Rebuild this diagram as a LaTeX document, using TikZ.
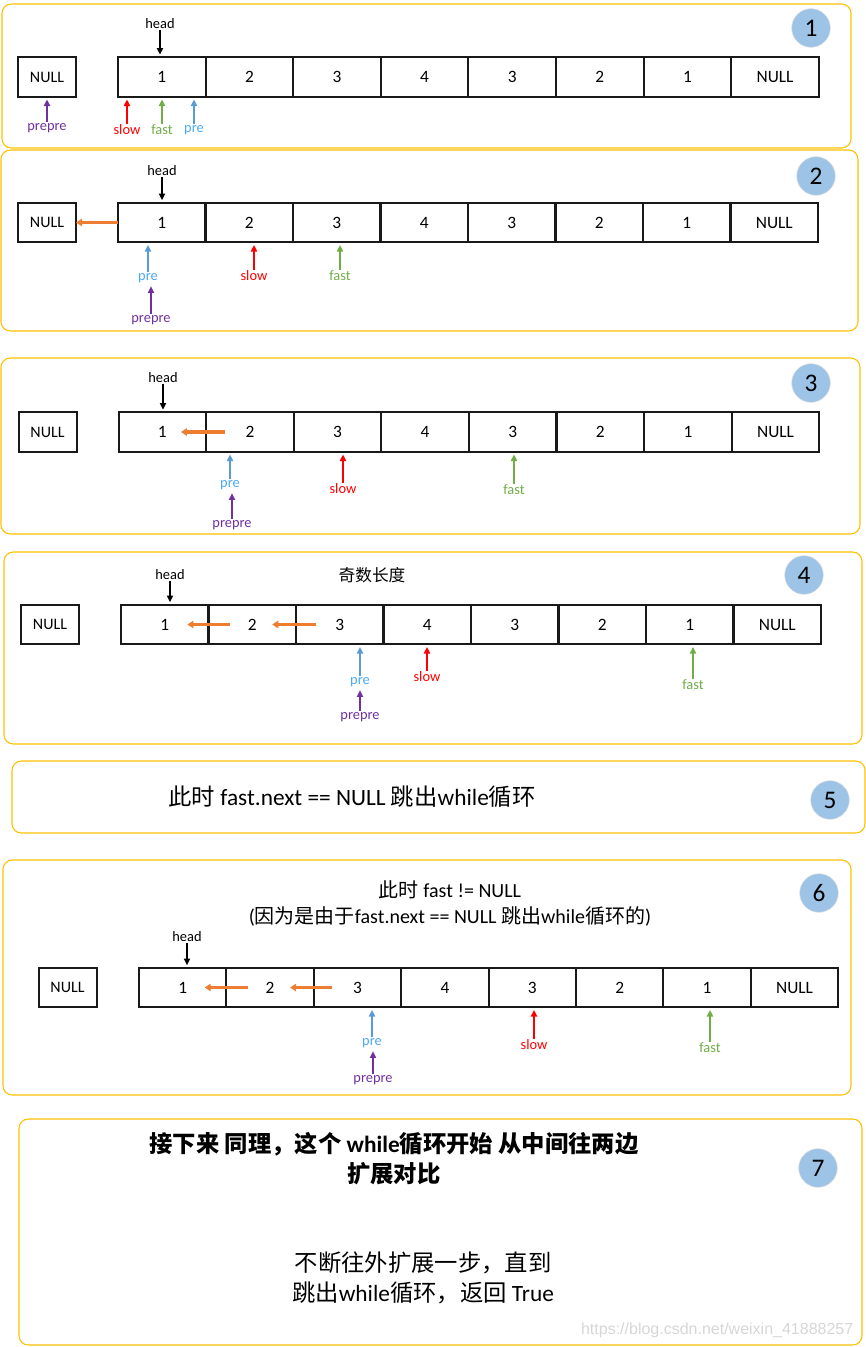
\documentclass[tikz,border=0pt]{standalone}
\usepackage{fontspec}
\setmainfont{Carlito}
\newfontfamily\cjk{Noto Sans CJK SC}
\newfontfamily\wmfont{Liberation Sans}
\newcommand\zh[1]{{\cjk #1}}
\usetikzlibrary{arrows.meta,positioning,calc}
\definecolor{boxyellow}{HTML}{FFC000}
\definecolor{badgeblue}{HTML}{9DC3E6}
\definecolor{revorange}{HTML}{ED7D31}
\definecolor{slowred}{HTML}{FF0000}
\definecolor{fastgreen}{HTML}{70AD47}
\definecolor{preblue}{HTML}{5B9BD5}
\definecolor{pretext}{HTML}{4AA8F5}
\definecolor{prepurple}{HTML}{7030A0}
\definecolor{wmgray}{HTML}{D6D6D6}
\tikzset{
  panel/.style={draw=boxyellow,line width=0.8pt,rounded corners=7pt},
  cell/.style={rectangle,draw=black!90,line width=1.5pt,outer sep=0pt,minimum width=65.6pt,minimum height=29.5pt,font=\fontsize{13pt}{15pt}\selectfont},
  nullbox/.style={cell,minimum width=43.5pt,font=\fontsize{12pt}{14pt}\selectfont},
  badge/.style={circle,fill=badgeblue,draw=black!12,minimum size=29pt,inner sep=0pt,font=\fontsize{19pt}{21pt}\selectfont},
  lbl/.style={inner sep=0.5pt,font=\fontsize{10.8pt}{12pt}\selectfont},
  ptr/.style={-{Triangle[length=5pt,width=4.5pt]},line width=1.9pt,shorten >=2pt},
  rev/.style={-{Triangle[length=4.5pt,width=5.5pt]},line width=2.3pt,draw=revorange},
  note/.style={align=center,font=\fontsize{17.5pt}{22pt}\selectfont},
  bignote/.style={align=center,font=\fontsize{17.5pt}{22.5pt}\selectfont}
}
\begin{document}
\begin{tikzpicture}[x=0.75pt,y=-0.75pt]
  \useasboundingbox (0,0) rectangle (866,1347);
  % panels
  \draw[panel] (2,4) rectangle (851,148);
  \draw[panel] (1,150) rectangle (858,331);
  \draw[panel] (1,358) rectangle (860,534);
  \draw[panel] (4,552) rectangle (862,744);
  \draw[panel] (12,761) rectangle (865,833);
  \draw[panel] (3,860) rectangle (851,1095);
  \draw[panel] (19,1119) rectangle (862,1345);
  \node[badge] (k1) at (811,28) {1};
  \node[badge] (k2) at (816,176) {2};
  \node[badge] (k3) at (811,383) {3};
  \node[badge] (k4) at (804,575) {4};
  \node[badge] (k5) at (830,800) {5};
  \node[badge] (k6) at (819,893) {6};
  \node[badge] (k7) at (818,1168) {7};

  % step 1
  \node[nullbox] (n1) at (47,77) {NULL};
  \foreach \v [count=\i] in {1,2,3,4,3,2,1,NULL}
    \node[cell] (a\i) at ({118+87.6*(\i-0.5)},77) {\v};
  \node[lbl] (hd1) at (160,24) {head};
  \draw[ptr] (hd1) -- (hd1 |- a1.north);
  \node[lbl,text=slowred] (sl1) at (127,130) {slow};
  \node[lbl,text=fastgreen] (fa1) at (162,130) {fast};
  \node[lbl,text=pretext] (pr1) at (194,130) {pre};
  \node[lbl,text=prepurple] (pp1) at (47,128) {prepre};
  \draw[ptr,slowred] (sl1) -- (sl1 |- a1.south);
  \draw[ptr,fastgreen] (fa1) -- (fa1 |- a1.south);
  \draw[ptr,preblue] (pr1) -- (pr1 |- a1.south);
  \draw[ptr,prepurple] (pp1) -- (pp1 |- n1.south);

  % step 2
  \node[nullbox] (n2) at (47,222.5) {NULL};
  \foreach \v [count=\i] in {1,2,3,4,3,2,1,NULL}
    \node[cell] (b\i) at ({118+87.5*(\i-0.5)},222.5) {\v};
  \draw[rev] (b1.west) -- (n2.east);
  \node[lbl] (hd2) at (162,171) {head};
  \draw[ptr] (hd2) -- (hd2 |- b1.north);
  \node[lbl,text=pretext] (pr2) at (148,278) {pre};
  \node[lbl,text=prepurple] (pp2) at (151,320) {prepre};
  \node[lbl,text=slowred] (sl2) at (254,276) {slow};
  \node[lbl,text=fastgreen] (fa2) at (340,276) {fast};
  \draw[ptr,preblue] (pr2) -- (pr2 |- b1.south);
  \draw[ptr,prepurple] (pp2) -- (pp2 |- pr2.south);
  \draw[ptr,slowred] (sl2) -- (sl2 |- b2.south);
  \draw[ptr,fastgreen] (fa2) -- (fa2 |- b3.south);

  % step 3
  \node[nullbox] (n3) at (47.5,432) {NULL};
  \foreach \v [count=\i] in {1,2,3,4,3,2,1,NULL}
    \node[cell] (c\i) at ({118.5+87.6*(\i-0.5)},432) {\v};
  \draw[rev] ([xshift=-19pt]c2.center) -- ([xshift=14pt]c1.center);
  \node[lbl] (hd3) at (163,378) {head};
  \draw[ptr] (hd3) -- (hd3 |- c1.north);
  \node[lbl,text=pretext] (pr3) at (230,485) {pre};
  \node[lbl,text=prepurple] (pp3) at (232,525) {prepre};
  \node[lbl,text=slowred] (sl3) at (343,489) {slow};
  \node[lbl,text=fastgreen] (fa3) at (514,490) {fast};
  \draw[ptr,preblue] (pr3) -- (pr3 |- c2.south);
  \draw[ptr,prepurple] (pp3) -- (pp3 |- pr3.south);
  \draw[ptr,slowred] (sl3) -- (sl3 |- c3.south);
  \draw[ptr,fastgreen] (fa3) -- (fa3 |- c5.south);

  % step 4
  \node[nullbox] (n4) at (50,624.5) {NULL};
  \foreach \v [count=\i] in {1,2,3,4,3,2,1,NULL}
    \node[cell] (d\i) at ({121+87.5*(\i-0.5)},624.5) {\v};
  \draw[rev] ([xshift=-16.5pt]d2.center) -- ([xshift=17pt]d1.center);
  \draw[rev] ([xshift=-18pt]d3.center) -- ([xshift=15pt]d2.center);
  \node[lbl] (hd4) at (170,575) {head};
  \draw[ptr] (hd4) -- (hd4 |- d1.north);
  \node[note,font=\cjk\fontsize{12.5pt}{15pt}\selectfont] (t4) at (372,575) {奇数长度};
  \node[lbl,text=pretext] (pr4) at (360,682) {pre};
  \node[lbl,text=prepurple] (pp4) at (360,717) {prepre};
  \node[lbl,text=slowred] (sl4) at (427,677) {slow};
  \node[lbl,text=fastgreen] (fa4) at (693,685) {fast};
  \draw[ptr,preblue] (pr4) -- (pr4 |- d3.south);
  \draw[ptr,prepurple] (pp4) -- (pp4 |- pr4.south);
  \draw[ptr,slowred] (sl4) -- (sl4 |- d4.south);
  \draw[ptr,fastgreen] (fa4) -- (fa4 |- d7.south);

  % step 5
  \node[note] (t5) at (352,797) {\zh{此时} fast.next == NULL \zh{跳出}while\zh{循环}};

  % step 6
  \node[note,font=\fontsize{15pt}{19.5pt}\selectfont] (t6) at (450,903)
    {\zh{此时} fast != NULL\\(\zh{因为是由于}fast.next == NULL \zh{跳出}while\zh{循环的})};
  \node[nullbox] (n6) at (67.5,987.5) {NULL};
  \foreach \v [count=\i] in {1,2,3,4,3,2,1,NULL}
    \node[cell] (f\i) at ({139+87.4*(\i-0.5)},987.5) {\v};
  \draw[rev] ([xshift=-16.5pt]f2.center) -- ([xshift=16.5pt]f1.center);
  \draw[rev] ([xshift=-19pt]f3.center) -- ([xshift=15pt]f2.center);
  \node[lbl] (hd6) at (187,937) {head};
  \draw[ptr] (hd6) -- (hd6 |- f1.north);
  \node[lbl,text=pretext] (pr6) at (372,1043) {pre};
  \node[lbl,text=prepurple] (pp6) at (373,1080) {prepre};
  \node[lbl,text=slowred] (sl6) at (534,1045) {slow};
  \node[lbl,text=fastgreen] (fa6) at (710,1048) {fast};
  \draw[ptr,preblue] (pr6) -- (pr6 |- f3.south);
  \draw[ptr,prepurple] (pp6) -- (pp6 |- pr6.south);
  \draw[ptr,slowred] (sl6) -- (sl6 |- f5.south);
  \draw[ptr,fastgreen] (fa6) -- (fa6 |- f7.south);

  % step 7
  \node[bignote,font=\bfseries\fontsize{17.5pt}{23pt}\selectfont] (t7a) at (394,1158.5)
    {\zh{接下来 同理，这个} while\zh{循环开始 从中间往两边}\\\zh{扩展对比}};
  \node[bignote] (t7b) at (423,1278)
    {\zh{不断往外扩展一步，直到}\\\zh{跳出}while\zh{循环，返回} True};
  \node[anchor=east,text=wmgray,font=\wmfont\fontsize{12pt}{14pt}\selectfont] (wm) at (858,1330)
    {https://blog.csdn.net/weixin\_41888257};
\end{tikzpicture}
\end{document}
